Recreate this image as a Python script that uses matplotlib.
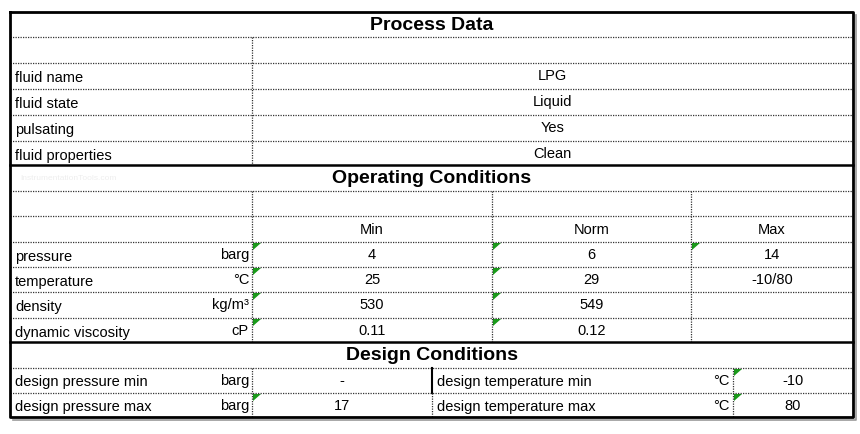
import matplotlib
matplotlib.use("Agg")
import matplotlib.pyplot as plt
from matplotlib.patches import Polygon

plt.rcParams['font.family'] = ['Liberation Sans', 'DejaVu Sans']

# ================= Data =================
process_labels = ["fluid name", "fluid state", "pulsating", "fluid properties"]
process_values = ["LPG", "Liquid", "Yes", "Clean"]

op_headers = ["Min", "Norm", "Max"]
op_labels = ["pressure", "temperature", "density", "dynamic viscosity"]
op_units = ["barg", "°C", "kg/m³", "cP"]
op_min = ["4", "25", "530", "0.11"]
op_norm = ["6", "29", "549", "0.12"]
op_max = ["14", "-10/80", "", ""]

design_p_labels = ["design pressure min", "design pressure max"]
design_p_units = ["barg", "barg"]
design_p_values = ["-", "17"]
design_t_labels = ["design temperature min", "design temperature max"]
design_t_units = ["°C", "°C"]
design_t_values = ["-10", "80"]

# ================= Figure (pixel coords) =================
W, H = 860, 435
fig = plt.figure(figsize=(W / 100, H / 100), dpi=100)
ax = fig.add_axes([0, 0, 1, 1])
ax.set_xlim(0, W)
ax.set_ylim(H, 0)
ax.axis('off')

L, R = 10, 853
C1, C2, C3 = 252, 492, 691
D2, D3 = 432, 733
FS = 10.5
TFS = 14

def hdot(y, x0=L, x1=R):
    ax.plot([x0, x1], [y, y], color='#333333', lw=0.9, ls=(0, (1, 1)))

def vdot(x, y0, y1):
    ax.plot([x, x], [y0, y1], color='#333333', lw=0.9, ls=(0, (1, 1)))

def hsolid(y, lw=1.8):
    ax.plot([L, R], [y, y], color='black', lw=lw)

def tri(x, y):
    ax.add_patch(Polygon([[x + 1, y + 1], [x + 9, y + 1], [x + 1, y + 8]],
                         color='#1a9a1a', lw=0))

# ---- Process data ----
ax.text((L + R) / 2, 26, "Process Data", ha='center', va='center',
        fontsize=TFS, fontweight='bold')
hdot(38)
ptop = 64
for i in range(len(process_labels)):
    y0 = ptop + 26 * i
    hdot(y0)
    ax.text(L + 5, y0 + 14, process_labels[i], va='center', fontsize=FS)
    ax.text((C1 + R) / 2, y0 + 12, process_values[i], ha='center', va='center', fontsize=FS)
vdot(C1, 38, 166)

# ---- Operating conditions ----
hsolid(166)
ax.text((L + R) / 2, 179, "Operating Conditions", ha='center', va='center',
        fontsize=TFS, fontweight='bold')
ax.text(20, 179, "InstrumentationTools.com", va='center', fontsize=6, color='#eeeeee')
hdot(192)
hdot(217)
cols = [(C1, C2), (C2, C3), (C3, R)]
for (a, b), h in zip(cols, op_headers):
    ax.text((a + b) / 2, 230, h, ha='center', va='center', fontsize=FS)
rows_y = [243, 268, 293, 319]
for i in range(len(op_labels)):
    y0 = rows_y[i]
    hdot(y0)
    ax.text(L + 5, y0 + 14, op_labels[i], va='center', fontsize=FS)
    ax.text(C1 - 3, y0 + 12, op_units[i], ha='right', va='center', fontsize=FS)
    for (a, b), v in zip(cols, [op_min[i], op_norm[i], op_max[i]]):
        ax.text((a + b) / 2, y0 + 12, v, ha='center', va='center', fontsize=FS)
    tri(C1, y0)
    tri(C2, y0)
tri(C3, 243)
for x in (C1, C2, C3):
    vdot(x, 192, 343)

# ---- Design conditions ----
hsolid(343)
ax.text((L + R) / 2, 356, "Design Conditions", ha='center', va='center',
        fontsize=TFS, fontweight='bold')
hdot(369)
hdot(394)
for i in range(2):
    y0 = 369 + 25 * i
    ax.text(L + 5, y0 + 13, design_p_labels[i], va='center', fontsize=FS)
    ax.text(C1 - 3, y0 + 12, design_p_units[i], ha='right', va='center', fontsize=FS)
    ax.text((C1 + D2) / 2, y0 + 12, design_p_values[i], ha='center', va='center', fontsize=FS)
    ax.text(D2 + 5, y0 + 13, design_t_labels[i], va='center', fontsize=FS)
    ax.text(D3 - 3, y0 + 12, design_t_units[i], ha='right', va='center', fontsize=FS)
    ax.text((D3 + R) / 2, y0 + 12, design_t_values[i], ha='center', va='center', fontsize=FS)
    tri(D3, y0)
tri(C1, 394)
vdot(C1, 369, 418)
vdot(D3, 369, 418)
ax.plot([D2, D2], [369, 394], color='black', lw=1.5)
vdot(D2, 394, 418)

# ---- Outer frame ----
ax.plot([L, R, R, L, L], [13, 13, 418, 418, 13], color='black', lw=2)
ax.plot([L + 3, R + 3, R + 3], [421, 421, 16], color='#999999', lw=1.2)

fig.savefig("out.png", dpi=100)
